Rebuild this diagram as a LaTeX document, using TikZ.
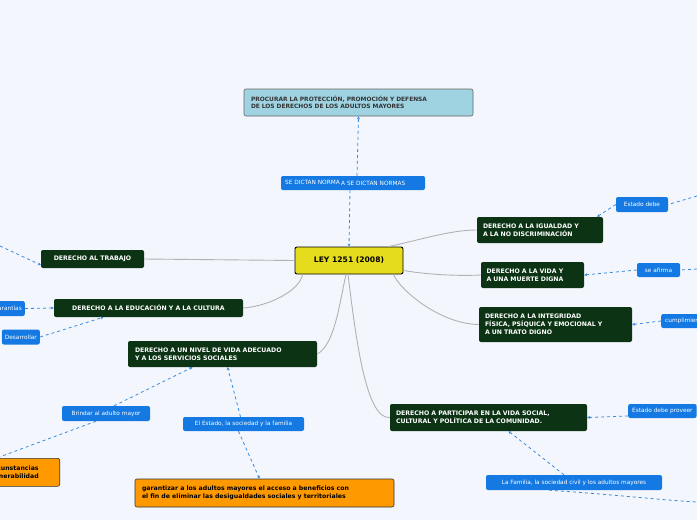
\documentclass[tikz,border=0pt]{standalone}
\usepackage{fontspec}
\setmainfont{DejaVu Sans}
\usetikzlibrary{arrows.meta}
\definecolor{bg}{HTML}{F3F6FD}
\definecolor{dk}{HTML}{0B3314}
\definecolor{lb}{HTML}{1479E2}
\definecolor{dl}{HTML}{3A8BE0}
\definecolor{ye}{HTML}{E6DC1E}
\definecolor{tb}{HTML}{9FD3E2}
\definecolor{or}{HTML}{FF9900}
\begin{document}
\begin{tikzpicture}[x=1pt,y=-1pt,
 box/.style={rounded corners=2pt,inner sep=0pt,align=left,font=\fontsize{6.2}{8}\selectfont\bfseries},
 dkb/.style={box,fill=dk,text=white},
 lab/.style={rounded corners=2pt,inner sep=0pt,fill=lb,text=white,font=\fontsize{5.8}{7}\selectfont},
 orb/.style={box,fill=or,draw=black!80,line width=0.6pt,text=black},
 gl/.style={draw=black!30,line width=0.9pt},
 dd/.style={draw=dl,dashed,line width=0.8pt},
 da/.style={dd,-{Stealth[length=3pt,width=3pt]}}]
\fill[bg] (0,0) rectangle (697,520);
\useasboundingbox (0,0) rectangle (697,520);
% main
\node[box,fill=ye,draw=black,line width=0.9pt,minimum width=108pt,minimum height=27pt,font=\fontsize{7.6}{9}\selectfont\bfseries] (ley) at (349,260.5) {LEY 1251 (2008)};
\node[box,fill=tb,draw=black!60,line width=0.6pt,minimum width=229pt,minimum height=27pt,text=black!80,text width=215pt,font=\fontsize{5.9}{7.2}\selectfont\bfseries] (top) at (358.5,102.5) {PROCURAR LA PROTECCIÓN, PROMOCIÓN Y DEFENSA\\DE LOS DERECHOS DE LOS ADULTOS MAYORES};
\node[lab,minimum width=144pt,minimum height=14pt] (sdn) at (353,183) {};
\node[lab,anchor=west] at (285,182.5) {SE DICTAN NORMA};
\node[lab,anchor=west] at (341,183.5) {A SE DICTAN NORMAS};
% left
\node[dkb,minimum width=103pt,minimum height=18pt] (trab) at (92.5,259) {DERECHO AL TRABAJO};
\node[dkb,minimum width=189pt,minimum height=18pt] (edu) at (148.5,308) {DERECHO A LA EDUCACIÓN Y A LA CULTURA};
\node[lab,anchor=east,minimum height=15pt,inner xsep=3pt] (gar) at (25,308.5) {Garantías};
\node[lab,anchor=east,minimum height=15pt,inner xsep=3pt] (des) at (40,337) {Desarrollar};
\node[dkb,minimum width=189pt,minimum height=26pt,text width=175pt] (niv) at (222.5,354) {DERECHO A UN NIVEL DE VIDA ADECUADO\\Y A LOS SERVICIOS SOCIALES};
\node[lab,minimum width=88pt,minimum height=15pt] (bri) at (106,413.5) {Brindar al adulto mayor};
\node[lab,minimum width=121pt,minimum height=14pt] (est) at (243.5,424) {El Estado, la sociedad y la familia};
\node[orb,anchor=north east,minimum height=28pt,inner xsep=4pt,text width=78pt] (orl) at (60,458) {en circunstancias\\de vulnerabilidad};
\node[orb,minimum width=259pt,minimum height=28pt,text width=245pt] (gara) at (264.5,493) {garantizar a los adultos mayores el acceso a beneficios con\\el fin de eliminar las desigualdades sociales y territoriales};
% right
\node[dkb,minimum width=126pt,minimum height=26pt,text width=114pt] (igu) at (540,230) {DERECHO A LA IGUALDAD Y\\A LA NO DISCRIMINACIÓN};
\node[lab,minimum width=52pt,minimum height=15pt] (ed1) at (642,204.5) {Estado debe};
\node[dkb,minimum width=103pt,minimum height=26pt,text width=92pt] (vida) at (532.5,275) {DERECHO A LA VIDA Y\\A UNA MUERTE DIGNA};
\node[lab,minimum width=43pt,minimum height=14pt] (afi) at (658.5,270) {se afirma};
\node[dkb,minimum width=153pt,minimum height=35pt,text width=141pt] (int) at (555.5,324.5) {DERECHO A LA INTEGRIDAD\\FÍSICA, PSÍQUICA Y EMOCIONAL Y\\A UN TRATO DIGNO};
\node[lab,anchor=west,minimum height=14pt,inner xsep=4pt] (cum) at (661,321) {cumplimiento};
\node[dkb,minimum width=197pt,minimum height=27pt,text width=185pt] (par) at (488.5,417.5) {DERECHO A PARTICIPAR EN LA VIDA SOCIAL,\\CULTURAL Y POLÍTICA DE LA COMUNIDAD.};
\node[lab,anchor=west,minimum height=14pt,inner xsep=4pt] (prov) at (628,411) {Estado debe proveer};
\node[lab,minimum width=176pt,minimum height=15pt] (fam) at (574,482.5) {La Familia, la sociedad civil y los adultos mayores};
% solid curves
\draw[gl] (ley.west) -- (trab.east);
\draw[gl] (ley.south west) ++(8,0) .. controls (300,290) and (270,306) .. (edu.east);
\draw[gl] (ley.south) ++(-3,0) .. controls (340,300) and (335,345) .. (niv.east);
\draw[gl] (ley.south) ++(-1,0) .. controls (355,330) and (365,420) .. (par.west);
\draw[gl] (ley.north east) ++(-15,0) .. controls (420,240) and (450,230) .. (igu.west);
\draw[gl] (ley.east) ++(0,10) .. controls (430,275) and (460,276) .. (vida.west);
\draw[gl] (ley.south east) ++(-10,0) .. controls (400,290) and (440,324) .. (int.west);
% dashed
\draw[da] (sdn.north) ++(4,0) -- (top.south);
\draw[da] (sdn.south) ++(-3,0) -- (ley.north);
\coordinate (t0) at (0,246);
\draw[da] (t0) -- ([yshift=-6pt]trab.west);
\draw[da] (gar.east) -- (edu.west);
\draw[da] (des.east) -- ([xshift=-45pt]edu.south);
\draw[da] (bri.north) ++(8,0) -- ([xshift=-30pt]niv.south);
\draw[da] (bri.south) ++(-10,0) -- ([xshift=-20pt]orl.north);
\draw[da] (est.north) ++(-3,0) -- ([xshift=5pt]niv.south);
\draw[da] (est.south) ++(-5,0) -- ([xshift=-5pt]gara.north);
\coordinate (r1) at (697,196);
\coordinate (r2) at (697,269);
\coordinate (r4) at (697,502);
\draw[dd] (r1) -- (ed1.east);
\draw[da] (ed1.west) -- ([xshift=57pt]igu.north);
\draw[dd] (r2) -- (afi.east);
\draw[da] (afi.west) -- (vida.east);
\draw[da] (cum.west) -- (int.east);
\draw[da] (prov.west) ++(0,5) -- (par.east);
\draw[da] (fam.north) ++(-10,0) -- ([xshift=20pt]par.south);
\draw[dd] ([xshift=-25pt]fam.south) .. controls (620,495) and (660,500) .. (r4);
\end{tikzpicture}
\end{document}
